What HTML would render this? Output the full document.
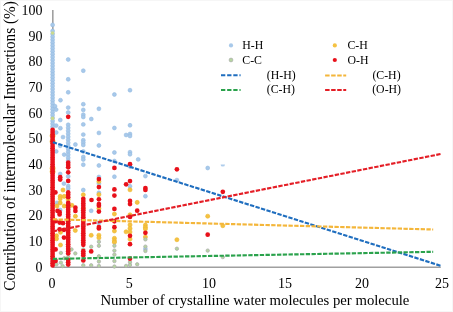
<!DOCTYPE html>
<html><head><meta charset="utf-8"><title>Chart</title>
<style>html,body{margin:0;padding:0;background:#fff;}body{width:453px;height:312px;overflow:hidden;}svg{display:block;}</style>
</head><body>
<svg width="453" height="312" viewBox="0 0 453 312">
<rect width="453" height="312" fill="#fff"/><rect x="0.5" y="0.5" width="452" height="311" fill="none" stroke="#F6F6F6" stroke-width="1"/>
<line x1="52.8" y1="267.2" x2="440.8" y2="267.2" stroke="#A0A0A0" stroke-width="1.6"/>
<line x1="52.8" y1="10" x2="52.8" y2="267.2" stroke="#A0A0A0" stroke-width="1.6"/>
<g font-family="Liberation Serif, serif" font-size="14" fill="#000" text-anchor="end"><text x="42.5" y="271.8">0</text><text x="42.5" y="246.1">10</text><text x="42.5" y="220.4">20</text><text x="42.5" y="194.7">30</text><text x="42.5" y="169.0">40</text><text x="42.5" y="143.3">50</text><text x="42.5" y="117.6">60</text><text x="42.5" y="91.9">70</text><text x="42.5" y="66.2">80</text><text x="42.5" y="40.5">90</text><text x="42.5" y="14.8">100</text></g>
<g font-family="Liberation Serif, serif" font-size="14" fill="#000" text-anchor="middle"><text x="52.1" y="287.6">0</text><text x="129.2" y="287.6">5</text><text x="208.9" y="287.6">10</text><text x="285.1" y="287.6">15</text><text x="362.1" y="287.6">20</text><text x="442.1" y="287.6">25</text></g>
<text x="254.9" y="304.5" font-family="Liberation Serif, serif" font-size="14.72" text-anchor="middle" fill="#000">Number of crystalline water molecules per molecule</text>
<text transform="translate(15.2,146.0) rotate(-90)" x="0" y="0" font-family="Liberation Serif, serif" font-size="16" text-anchor="middle" textLength="289.5" lengthAdjust="spacingAndGlyphs" fill="#000">Contribution of intermolecular Interactions (%)</text>
<g fill="#A8C9EA" stroke="#96BCE3" stroke-width="0.6"><circle cx="52.6" cy="24.9" r="1.95"/><circle cx="52.6" cy="31.0" r="1.95"/><circle cx="52.6" cy="33.9" r="1.95"/><circle cx="52.6" cy="36.8" r="1.95"/><circle cx="52.6" cy="39.7" r="1.95"/><circle cx="52.6" cy="42.6" r="1.95"/><circle cx="52.6" cy="45.5" r="1.95"/><circle cx="52.6" cy="48.4" r="1.95"/><circle cx="52.6" cy="51.3" r="1.95"/><circle cx="52.6" cy="54.2" r="1.95"/><circle cx="52.6" cy="57.1" r="1.95"/><circle cx="52.6" cy="60.0" r="1.95"/><circle cx="52.6" cy="62.9" r="1.95"/><circle cx="52.6" cy="65.8" r="1.95"/><circle cx="52.6" cy="68.7" r="1.95"/><circle cx="52.6" cy="71.6" r="1.95"/><circle cx="52.6" cy="74.5" r="1.95"/><circle cx="52.6" cy="77.4" r="1.95"/><circle cx="52.6" cy="80.3" r="1.95"/><circle cx="52.6" cy="83.2" r="1.95"/><circle cx="52.6" cy="86.1" r="1.95"/><circle cx="52.6" cy="89.0" r="1.95"/><circle cx="52.6" cy="91.9" r="1.95"/><circle cx="52.6" cy="94.8" r="1.95"/><circle cx="52.6" cy="97.7" r="1.95"/><circle cx="52.6" cy="100.6" r="1.95"/><circle cx="52.6" cy="103.5" r="1.95"/><circle cx="52.6" cy="106.4" r="1.95"/><circle cx="52.6" cy="109.3" r="1.95"/><circle cx="52.6" cy="112.2" r="1.95"/><circle cx="52.6" cy="115.1" r="1.95"/><circle cx="52.6" cy="118.0" r="1.95"/><circle cx="52.6" cy="120.9" r="1.95"/><circle cx="52.6" cy="123.8" r="1.95"/><circle cx="52.6" cy="126.7" r="1.95"/><circle cx="55.0" cy="106.2" r="1.95"/><circle cx="56.1" cy="109.6" r="1.95"/><circle cx="56.2" cy="125.6" r="1.95"/><circle cx="56.2" cy="132.5" r="1.95"/><circle cx="56.2" cy="151.4" r="1.95"/><circle cx="57.0" cy="202.9" r="1.95"/><circle cx="60.5" cy="100.2" r="1.95"/><circle cx="60.3" cy="120.0" r="1.95"/><circle cx="60.4" cy="128.2" r="1.95"/><circle cx="63.0" cy="137.1" r="1.95"/><circle cx="60.2" cy="145.8" r="1.95"/><circle cx="64.2" cy="154.6" r="1.95"/><circle cx="60.2" cy="174.0" r="1.95"/><circle cx="63.9" cy="183.6" r="1.95"/><circle cx="60.2" cy="210.0" r="1.95"/><circle cx="68.2" cy="59.5" r="1.95"/><circle cx="68.2" cy="79.3" r="1.95"/><circle cx="68.2" cy="92.3" r="1.95"/><circle cx="68.2" cy="107.6" r="1.95"/><circle cx="68.2" cy="112.5" r="1.95"/><circle cx="68.2" cy="176.4" r="1.95"/><circle cx="68.2" cy="186.0" r="1.95"/><circle cx="68.2" cy="188.4" r="1.95"/><circle cx="68.2" cy="124.8" r="1.95"/><circle cx="68.2" cy="127.8" r="1.95"/><circle cx="68.2" cy="130.8" r="1.95"/><circle cx="68.2" cy="133.8" r="1.95"/><circle cx="68.2" cy="136.8" r="1.95"/><circle cx="68.2" cy="139.8" r="1.95"/><circle cx="68.2" cy="142.8" r="1.95"/><circle cx="68.2" cy="145.8" r="1.95"/><circle cx="68.2" cy="148.8" r="1.95"/><circle cx="68.2" cy="151.8" r="1.95"/><circle cx="68.2" cy="154.8" r="1.95"/><circle cx="68.2" cy="157.8" r="1.95"/><circle cx="68.2" cy="160.8" r="1.95"/><circle cx="75.4" cy="144.5" r="1.95"/><circle cx="83.3" cy="70.7" r="1.95"/><circle cx="83.3" cy="104.2" r="1.95"/><circle cx="83.3" cy="109.9" r="1.95"/><circle cx="83.3" cy="114.7" r="1.95"/><circle cx="83.3" cy="117.0" r="1.95"/><circle cx="83.3" cy="124.4" r="1.95"/><circle cx="83.3" cy="134.6" r="1.95"/><circle cx="83.3" cy="140.2" r="1.95"/><circle cx="83.3" cy="142.6" r="1.95"/><circle cx="83.3" cy="145.0" r="1.95"/><circle cx="83.3" cy="151.4" r="1.95"/><circle cx="83.3" cy="157.0" r="1.95"/><circle cx="83.3" cy="159.5" r="1.95"/><circle cx="83.3" cy="164.7" r="1.95"/><circle cx="83.3" cy="190.0" r="1.95"/><circle cx="91.3" cy="119.0" r="1.95"/><circle cx="91.2" cy="210.8" r="1.95"/><circle cx="98.9" cy="108.8" r="1.95"/><circle cx="98.9" cy="132.9" r="1.95"/><circle cx="98.9" cy="145.5" r="1.95"/><circle cx="98.9" cy="165.5" r="1.95"/><circle cx="98.9" cy="177.0" r="1.95"/><circle cx="98.9" cy="183.5" r="1.95"/><circle cx="98.9" cy="192.8" r="1.95"/><circle cx="98.9" cy="222.9" r="1.95"/><circle cx="114.4" cy="94.5" r="1.95"/><circle cx="114.4" cy="128.0" r="1.95"/><circle cx="114.4" cy="152.5" r="1.95"/><circle cx="114.4" cy="161.0" r="1.95"/><circle cx="114.4" cy="176.7" r="1.95"/><circle cx="126.1" cy="135.0" r="1.95"/><circle cx="130.0" cy="90.2" r="1.95"/><circle cx="130.0" cy="125.3" r="1.95"/><circle cx="130.0" cy="134.0" r="1.95"/><circle cx="130.0" cy="136.0" r="1.95"/><circle cx="130.0" cy="152.2" r="1.95"/><circle cx="130.0" cy="154.3" r="1.95"/><circle cx="130.0" cy="166.5" r="1.95"/><circle cx="130.0" cy="186.3" r="1.95"/><circle cx="138.2" cy="159.4" r="1.95"/><circle cx="145.4" cy="176.1" r="1.95"/><circle cx="145.4" cy="196.2" r="1.95"/><circle cx="145.4" cy="249.0" r="1.95"/><circle cx="176.9" cy="180.1" r="1.95"/><circle cx="207.7" cy="168.0" r="1.95"/></g>
<g fill="#F5C242" stroke="#EDB52C" stroke-width="0.6"><circle cx="63.0" cy="190.0" r="2.05"/><circle cx="60.2" cy="196.4" r="2.05"/><circle cx="64.2" cy="196.4" r="2.05"/><circle cx="60.2" cy="198.8" r="2.05"/><circle cx="60.2" cy="202.9" r="2.05"/><circle cx="57.0" cy="206.0" r="2.05"/><circle cx="64.2" cy="206.0" r="2.05"/><circle cx="60.5" cy="222.0" r="2.05"/><circle cx="60.5" cy="232.3" r="2.05"/><circle cx="56.5" cy="235.8" r="2.05"/><circle cx="56.5" cy="238.8" r="2.05"/><circle cx="60.5" cy="245.0" r="2.05"/><circle cx="68.2" cy="199.6" r="2.05"/><circle cx="71.9" cy="205.3" r="2.05"/><circle cx="75.4" cy="216.2" r="2.05"/><circle cx="75.3" cy="230.5" r="2.05"/><circle cx="83.3" cy="194.8" r="2.05"/><circle cx="83.3" cy="208.5" r="2.05"/><circle cx="91.2" cy="235.3" r="2.05"/><circle cx="98.9" cy="181.5" r="2.05"/><circle cx="98.9" cy="194.6" r="2.05"/><circle cx="98.9" cy="208.4" r="2.05"/><circle cx="98.9" cy="235.2" r="2.05"/><circle cx="98.9" cy="237.8" r="2.05"/><circle cx="114.4" cy="214.0" r="2.05"/><circle cx="114.4" cy="231.0" r="2.05"/><circle cx="114.4" cy="238.3" r="2.05"/><circle cx="114.4" cy="240.7" r="2.05"/><circle cx="114.4" cy="242.3" r="2.05"/><circle cx="130.0" cy="189.8" r="2.05"/><circle cx="130.0" cy="214.8" r="2.05"/><circle cx="130.0" cy="224.9" r="2.05"/><circle cx="130.0" cy="228.5" r="2.05"/><circle cx="130.0" cy="232.0" r="2.05"/><circle cx="130.0" cy="239.1" r="2.05"/><circle cx="126.1" cy="231.8" r="2.05"/><circle cx="137.2" cy="202.4" r="2.05"/><circle cx="145.4" cy="225.1" r="2.05"/><circle cx="145.4" cy="227.2" r="2.05"/><circle cx="145.4" cy="229.0" r="2.05"/><circle cx="145.4" cy="237.0" r="2.05"/><circle cx="176.9" cy="239.7" r="2.05"/><circle cx="207.7" cy="216.2" r="2.05"/><circle cx="222.8" cy="225.7" r="2.05"/></g>
<path d="M220.6,164.4 A2.2,2.2 0 0 0 225,164.4 Z" fill="#AFCDEC"/>
<g fill="#B5D6A0" stroke="#ABABAB" stroke-width="0.75"><circle cx="60.9" cy="252.9" r="1.7"/><circle cx="71.5" cy="249.4" r="1.7"/><circle cx="75.3" cy="253.4" r="1.7"/><circle cx="64.4" cy="258.2" r="1.7"/><circle cx="60.9" cy="262.6" r="1.7"/><circle cx="62.6" cy="266.1" r="1.7"/><circle cx="56.5" cy="264.4" r="1.7"/><circle cx="68.2" cy="257.3" r="1.7"/><circle cx="83.3" cy="249.4" r="1.7"/><circle cx="83.3" cy="265.3" r="1.7"/><circle cx="91.2" cy="246.7" r="1.7"/><circle cx="91.2" cy="265.3" r="1.7"/><circle cx="98.9" cy="241.8" r="1.7"/><circle cx="98.9" cy="245.8" r="1.7"/><circle cx="98.9" cy="256.3" r="1.7"/><circle cx="98.9" cy="261.5" r="1.7"/><circle cx="98.9" cy="265.9" r="1.7"/><circle cx="114.4" cy="245.8" r="1.7"/><circle cx="114.4" cy="250.6" r="1.7"/><circle cx="114.4" cy="254.6" r="1.7"/><circle cx="114.4" cy="261.1" r="1.7"/><circle cx="114.4" cy="266.5" r="1.7"/><circle cx="130.0" cy="262.2" r="1.7"/><circle cx="130.0" cy="265.0" r="1.7"/><circle cx="126.1" cy="265.9" r="1.7"/><circle cx="137.2" cy="264.3" r="1.7"/><circle cx="145.4" cy="239.4" r="1.7"/><circle cx="145.4" cy="246.6" r="1.7"/><circle cx="145.4" cy="251.0" r="1.7"/><circle cx="176.9" cy="248.7" r="1.7"/><circle cx="207.7" cy="250.6" r="1.7"/><circle cx="222.8" cy="257.1" r="1.7"/></g>
<g fill="#F5C242"><circle cx="52.6" cy="135.8" r="2.9"/><circle cx="52.6" cy="141.4" r="2.9"/><circle cx="52.6" cy="168.2" r="2.9"/><circle cx="52.6" cy="171.6" r="2.9"/></g>
<g fill="#E8101A"><circle cx="52.6" cy="129.8" r="2.35"/><circle cx="52.6" cy="132.1" r="2.35"/><circle cx="52.6" cy="134.4" r="2.35"/><circle cx="52.6" cy="136.7" r="2.35"/><circle cx="52.6" cy="139.0" r="2.35"/><circle cx="52.6" cy="141.3" r="2.35"/><circle cx="52.6" cy="143.6" r="2.35"/><circle cx="52.6" cy="145.9" r="2.35"/><circle cx="52.6" cy="148.2" r="2.35"/><circle cx="52.6" cy="150.5" r="2.35"/><circle cx="52.6" cy="152.8" r="2.35"/><circle cx="52.6" cy="155.1" r="2.35"/><circle cx="52.6" cy="157.4" r="2.35"/><circle cx="52.6" cy="159.7" r="2.35"/><circle cx="52.6" cy="162.0" r="2.35"/><circle cx="52.6" cy="164.3" r="2.35"/><circle cx="52.6" cy="166.6" r="2.35"/><circle cx="52.6" cy="168.9" r="2.35"/><circle cx="52.6" cy="171.2" r="2.35"/><circle cx="52.6" cy="173.5" r="2.35"/><circle cx="52.6" cy="175.8" r="2.35"/><circle cx="52.6" cy="178.1" r="2.35"/><circle cx="52.6" cy="180.4" r="2.35"/><circle cx="52.6" cy="182.7" r="2.35"/><circle cx="52.6" cy="185.0" r="2.35"/><circle cx="52.6" cy="187.3" r="2.35"/><circle cx="52.6" cy="189.6" r="2.35"/><circle cx="52.6" cy="191.9" r="2.35"/><circle cx="52.6" cy="194.2" r="2.35"/><circle cx="52.6" cy="196.5" r="2.35"/><circle cx="52.6" cy="198.8" r="2.35"/><circle cx="52.6" cy="201.1" r="2.35"/><circle cx="52.6" cy="203.4" r="2.35"/><circle cx="52.6" cy="205.7" r="2.35"/><circle cx="52.6" cy="208.0" r="2.35"/><circle cx="52.6" cy="210.3" r="2.35"/><circle cx="52.6" cy="212.6" r="2.35"/><circle cx="52.6" cy="214.9" r="2.35"/><circle cx="52.6" cy="217.2" r="2.35"/><circle cx="52.6" cy="219.5" r="2.35"/><circle cx="52.6" cy="221.8" r="2.35"/><circle cx="52.6" cy="224.1" r="2.35"/><circle cx="52.6" cy="226.4" r="2.35"/><circle cx="52.6" cy="228.7" r="2.35"/><circle cx="52.6" cy="231.0" r="2.35"/><circle cx="52.6" cy="233.3" r="2.35"/><circle cx="52.6" cy="235.6" r="2.35"/><circle cx="52.6" cy="237.9" r="2.35"/><circle cx="52.6" cy="240.2" r="2.35"/><circle cx="52.6" cy="242.5" r="2.35"/><circle cx="52.6" cy="244.8" r="2.35"/><circle cx="52.6" cy="247.1" r="2.35"/><circle cx="52.6" cy="249.4" r="2.35"/><circle cx="52.6" cy="251.7" r="2.35"/><circle cx="52.6" cy="254.0" r="2.35"/><circle cx="52.6" cy="256.3" r="2.35"/><circle cx="52.6" cy="258.6" r="2.35"/><circle cx="52.6" cy="260.9" r="2.35"/><circle cx="52.6" cy="263.2" r="2.35"/><circle cx="52.6" cy="265.5" r="2.35"/><circle cx="55.4" cy="192.4" r="2.35"/><circle cx="55.6" cy="221.2" r="2.35"/><circle cx="55.6" cy="249.4" r="2.35"/><circle cx="55.6" cy="260.9" r="2.35"/><circle cx="60.2" cy="177.2" r="2.35"/><circle cx="60.2" cy="179.6" r="2.35"/><circle cx="57.5" cy="210.9" r="2.35"/><circle cx="59.6" cy="212.2" r="2.35"/><circle cx="59.6" cy="214.4" r="2.35"/><circle cx="59.6" cy="222.6" r="2.35"/><circle cx="63.0" cy="223.2" r="2.35"/><circle cx="59.6" cy="229.3" r="2.35"/><circle cx="64.0" cy="229.8" r="2.35"/><circle cx="64.0" cy="237.6" r="2.35"/><circle cx="68.2" cy="116.8" r="2.35"/><circle cx="68.2" cy="172.3" r="2.35"/><circle cx="68.2" cy="180.9" r="2.35"/><circle cx="68.2" cy="162.7" r="2.35"/><circle cx="68.2" cy="165.0" r="2.35"/><circle cx="68.2" cy="167.3" r="2.35"/><circle cx="68.2" cy="192.4" r="2.35"/><circle cx="68.2" cy="194.8" r="2.35"/><circle cx="68.2" cy="197.2" r="2.35"/><circle cx="68.2" cy="202.9" r="2.35"/><circle cx="68.2" cy="205.2" r="2.35"/><circle cx="68.2" cy="207.5" r="2.35"/><circle cx="68.2" cy="209.8" r="2.35"/><circle cx="68.2" cy="212.1" r="2.35"/><circle cx="68.2" cy="214.4" r="2.35"/><circle cx="68.2" cy="216.7" r="2.35"/><circle cx="68.2" cy="219.0" r="2.35"/><circle cx="68.2" cy="221.3" r="2.35"/><circle cx="68.2" cy="223.6" r="2.35"/><circle cx="68.2" cy="225.9" r="2.35"/><circle cx="68.2" cy="228.2" r="2.35"/><circle cx="68.2" cy="230.5" r="2.35"/><circle cx="68.2" cy="232.8" r="2.35"/><circle cx="68.2" cy="235.1" r="2.35"/><circle cx="68.2" cy="237.4" r="2.35"/><circle cx="68.2" cy="239.7" r="2.35"/><circle cx="68.2" cy="242.0" r="2.35"/><circle cx="68.2" cy="244.3" r="2.35"/><circle cx="68.2" cy="246.6" r="2.35"/><circle cx="68.2" cy="248.9" r="2.35"/><circle cx="68.2" cy="251.2" r="2.35"/><circle cx="68.2" cy="253.5" r="2.35"/><circle cx="68.2" cy="260.0" r="2.35"/><circle cx="68.2" cy="262.3" r="2.35"/><circle cx="68.2" cy="264.6" r="2.35"/><circle cx="75.4" cy="207.7" r="2.35"/><circle cx="75.4" cy="210.9" r="2.35"/><circle cx="83.3" cy="198.8" r="2.35"/><circle cx="83.3" cy="201.1" r="2.35"/><circle cx="83.3" cy="203.4" r="2.35"/><circle cx="83.3" cy="205.7" r="2.35"/><circle cx="83.3" cy="208.0" r="2.35"/><circle cx="83.3" cy="210.3" r="2.35"/><circle cx="83.3" cy="212.6" r="2.35"/><circle cx="83.3" cy="214.9" r="2.35"/><circle cx="83.3" cy="217.2" r="2.35"/><circle cx="83.3" cy="219.5" r="2.35"/><circle cx="83.3" cy="221.8" r="2.35"/><circle cx="83.3" cy="224.1" r="2.35"/><circle cx="83.3" cy="226.4" r="2.35"/><circle cx="83.3" cy="228.7" r="2.35"/><circle cx="83.3" cy="231.0" r="2.35"/><circle cx="83.3" cy="233.3" r="2.35"/><circle cx="83.3" cy="235.6" r="2.35"/><circle cx="83.3" cy="237.9" r="2.35"/><circle cx="83.3" cy="240.2" r="2.35"/><circle cx="83.3" cy="242.5" r="2.35"/><circle cx="83.3" cy="244.8" r="2.35"/><circle cx="83.3" cy="251.2" r="2.35"/><circle cx="83.3" cy="253.5" r="2.35"/><circle cx="83.3" cy="255.6" r="2.35"/><circle cx="83.3" cy="260.5" r="2.35"/><circle cx="91.5" cy="200.0" r="2.35"/><circle cx="91.2" cy="251.4" r="2.35"/><circle cx="98.9" cy="179.1" r="2.35"/><circle cx="98.9" cy="187.1" r="2.35"/><circle cx="98.9" cy="199.3" r="2.35"/><circle cx="98.9" cy="204.1" r="2.35"/><circle cx="98.9" cy="205.7" r="2.35"/><circle cx="98.9" cy="211.6" r="2.35"/><circle cx="98.9" cy="227.0" r="2.35"/><circle cx="98.9" cy="228.5" r="2.35"/><circle cx="114.4" cy="167.9" r="2.35"/><circle cx="114.4" cy="189.4" r="2.35"/><circle cx="114.4" cy="195.6" r="2.35"/><circle cx="114.4" cy="208.9" r="2.35"/><circle cx="114.4" cy="221.3" r="2.35"/><circle cx="114.4" cy="227.2" r="2.35"/><circle cx="130.0" cy="164.2" r="2.35"/><circle cx="130.0" cy="181.1" r="2.35"/><circle cx="130.0" cy="200.9" r="2.35"/><circle cx="130.0" cy="204.1" r="2.35"/><circle cx="130.0" cy="216.9" r="2.35"/><circle cx="130.0" cy="235.8" r="2.35"/><circle cx="130.0" cy="244.2" r="2.35"/><circle cx="130.0" cy="258.7" r="2.35"/><circle cx="126.1" cy="184.3" r="2.35"/><circle cx="137.2" cy="210.7" r="2.35"/><circle cx="145.4" cy="188.1" r="2.35"/><circle cx="145.4" cy="189.9" r="2.35"/><circle cx="145.4" cy="232.8" r="2.35"/><circle cx="176.9" cy="169.3" r="2.35"/><circle cx="207.7" cy="234.7" r="2.35"/><circle cx="222.8" cy="191.8" r="2.35"/></g>
<g fill="#C9D98E"><circle cx="52.6" cy="33.0" r="1.8"/><circle cx="52.6" cy="118.4" r="1.8"/></g>
<line x1="52.8" y1="142.2" x2="440.8" y2="265.8" stroke="#1F6EBF" stroke-dasharray="4.35 1.4" stroke-width="2.15" fill="none"/>
<line x1="52.8" y1="219.3" x2="433.2" y2="229.5" stroke="#F4B63A" stroke-dasharray="4.35 1.4" stroke-width="2.15" fill="none"/>
<line x1="52.8" y1="258.9" x2="433.2" y2="251.8" stroke="#2AA24C" stroke-dasharray="4.35 1.4" stroke-width="2.15" fill="none"/>
<line x1="52.8" y1="231.4" x2="440.8" y2="154.0" stroke="#E41E26" stroke-dasharray="4.35 1.4" stroke-width="2.15" fill="none"/>
<circle cx="231" cy="45.4" r="2.1" fill="#A8C9EA"/>
<circle cx="231" cy="60" r="1.9" fill="#B5D6A0" stroke="#ABABAB" stroke-width="0.7"/>
<circle cx="334.8" cy="45.4" r="2.1" fill="#F5C242"/>
<circle cx="334.8" cy="60" r="2.1" fill="#E8101A"/>
<line x1="221" y1="75.3" x2="240.6" y2="75.3" stroke="#1F6EBF" stroke-dasharray="4.3 1.85" stroke-width="2"/>
<line x1="221" y1="90.1" x2="240.6" y2="90.1" stroke="#2AA24C" stroke-dasharray="4.3 1.85" stroke-width="2"/>
<line x1="325.1" y1="75.5" x2="346.2" y2="75.5" stroke="#F4B63A" stroke-dasharray="4.5 1.55" stroke-width="2"/>
<line x1="325.1" y1="90.1" x2="346.2" y2="90.1" stroke="#E41E26" stroke-dasharray="4.5 1.55" stroke-width="2"/>
<g font-family="Liberation Serif, serif" font-size="11.8" fill="#000"><text x="242.3" y="49.3">H-H</text><text x="242.3" y="63.8">C-C</text><text x="347.5" y="49.3">C-H</text><text x="347.5" y="63.8">O-H</text><text x="266.8" y="78.6">(H-H)</text><text x="266.8" y="93.4">(C-H)</text><text x="372.4" y="78.6">(C-H)</text><text x="372.2" y="93.4">(O-H)</text></g>
</svg>
</body></html>
